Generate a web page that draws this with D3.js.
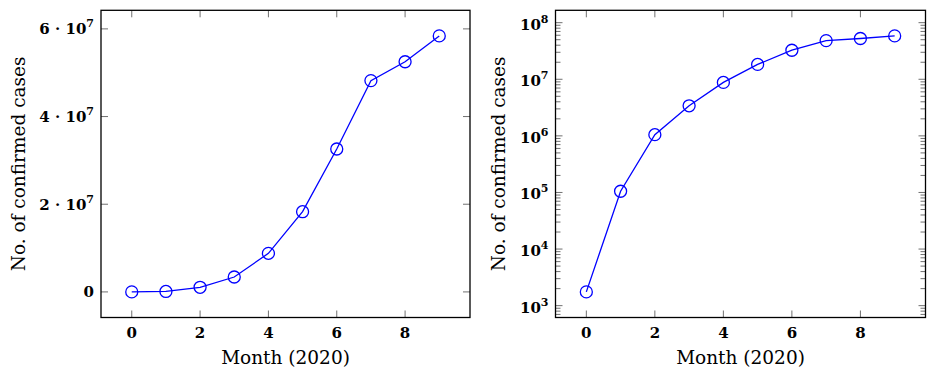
<!DOCTYPE html>
<html><head><meta charset="utf-8">
<script src="https://cdn.jsdelivr.net/npm/d3@7"></script>
<style>
body{margin:0;background:#fff;}
text{font-family:"DejaVu Serif",serif;fill:#000;}
text.tick{font-weight:bold;}
text.title{font-weight:normal;}
</style></head>
<body><svg id="c" width="938" height="372"></svg>
<script>
const months = [0,1,2,3,4,5,6,7,8,9];
const cases = [1.75e3, 1.05e5, 1.05e6, 3.4e6, 8.8e6, 1.83e7, 3.26e7, 4.82e7, 5.25e7, 5.84e7];
const xTicks = [0,2,4,6,8];
const linTicks = [0, 2e7, 4e7, 6e7];
const linTickExp = ["", "7", "7", "7"];
const linTickMant = ["0", "2", "4", "6"];
const logTicks = [1e3,1e4,1e5,1e6,1e7,1e8];
const xTitle = "Month (2020)";
const yTitle = "No. of confirmed cases";

const svg = d3.select("#c");
const plotTop = 10.3, plotBottom = 317.5;
const panels = [
  {x0:101, x1:470, log:false},
  {x0:555.5, x1:925.5, log:true}
];
const blue = "#0000ff";
const tickCol = "#707070";
const xExt = d3.extent(months), xPad = 0.1*(xExt[1]-xExt[0]);

panels.forEach(p => {
  const g = svg.append("g");
  const x = d3.scaleLinear().domain([xExt[0]-xPad, xExt[1]+xPad]).range([p.x0, p.x1]);
  let y;
  if (!p.log) {
    const e = d3.extent(cases), pad = 0.1*(e[1]-e[0]);
    y = d3.scaleLinear().domain([e[0]-pad, e[1]+pad]).range([plotBottom, plotTop]);
  } else {
    const e = d3.extent(cases).map(Math.log10), pad = 0.1*(e[1]-e[0]);
    y = d3.scaleLog().domain([Math.pow(10,e[0]-pad), Math.pow(10,e[1]+pad)]).range([plotBottom, plotTop]);
  }
  const tg = g.append("g").attr("stroke", tickCol).attr("stroke-width", 1);
  xTicks.forEach(t => {
    tg.append("line").attr("x1", x(t)).attr("x2", x(t)).attr("y1", plotBottom).attr("y2", plotBottom-7);
    tg.append("line").attr("x1", x(t)).attr("x2", x(t)).attr("y1", plotTop).attr("y2", plotTop+7);
  });
  const yMaj = p.log ? logTicks : linTicks;
  yMaj.forEach(t => {
    tg.append("line").attr("x1", p.x0).attr("x2", p.x0+7).attr("y1", y(t)).attr("y2", y(t));
    tg.append("line").attr("x1", p.x1).attr("x2", p.x1-7).attr("y1", y(t)).attr("y2", y(t));
  });
  if (p.log) {
    const [lo, hi] = y.domain();
    const minors = [];
    for (let k = Math.floor(Math.log10(lo)); k <= Math.ceil(Math.log10(hi)); k++)
      for (let m = 2; m <= 9; m++) { const v = m*Math.pow(10,k); if (v>lo && v<hi) minors.push(v); }
    minors.forEach(t => {
      tg.append("line").attr("x1", p.x0).attr("x2", p.x0+5).attr("y1", y(t)).attr("y2", y(t));
      tg.append("line").attr("x1", p.x1).attr("x2", p.x1-5).attr("y1", y(t)).attr("y2", y(t));
    });
  }
  g.append("rect").attr("x", p.x0).attr("y", plotTop).attr("width", p.x1-p.x0).attr("height", plotBottom-plotTop)
    .attr("fill","none").attr("stroke","#000").attr("stroke-width",1.3);
  xTicks.forEach(t => {
    g.append("text").attr("class","tick").attr("x", x(t)).attr("y", plotBottom+20).attr("text-anchor","middle")
      .attr("font-size",15).text(t);
  });
  if (!p.log) {
    linTicks.forEach((t,i) => {
      const tx = g.append("text").attr("class","tick").attr("x", p.x0-7).attr("y", y(t)+5.5).attr("text-anchor","end").attr("font-size",15);
      if (linTickExp[i]) {
        tx.append("tspan").text(linTickMant[i] + " \u00b7 10");
        tx.append("tspan").attr("font-size",11).attr("dy",-7).text(linTickExp[i]);
      } else tx.text(linTickMant[i]);
    });
  } else {
    logTicks.forEach(t => {
      const tx = g.append("text").attr("class","tick").attr("x", p.x0-7).attr("y", y(t)+7).attr("text-anchor","end").attr("font-size",15);
      tx.append("tspan").text("10");
      tx.append("tspan").attr("font-size",11).attr("dy",-7).text(Math.round(Math.log10(t)));
    });
  }
  const line = d3.line().x((d,i)=>x(months[i])).y(d=>y(d));
  g.append("path").datum(cases).attr("d", line).attr("fill","none").attr("stroke",blue).attr("stroke-width",1.3);
  g.selectAll("circle.m").data(cases).join("circle").attr("class","m")
    .attr("cx",(d,i)=>x(months[i])).attr("cy",d=>y(d)).attr("r",6)
    .attr("fill","none").attr("stroke",blue).attr("stroke-width",1.3);
  g.append("text").attr("class","title").attr("x",(p.x0+p.x1)/2).attr("y",364).attr("text-anchor","middle").attr("font-size",18.5).text(xTitle);
  const yx = p.log ? 505 : 25;
  g.append("text").attr("class","title").attr("transform",`translate(${yx},${(plotTop+plotBottom)/2}) rotate(-90)`).attr("text-anchor","middle").attr("font-size",18.5).text(yTitle);
});
</script></body></html>
